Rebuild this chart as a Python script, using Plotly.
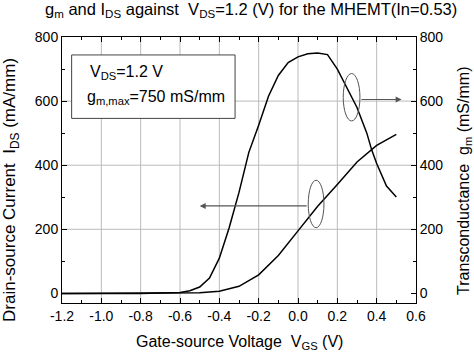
import plotly.graph_objects as go

# Data
vgs_gm = [-1.2, -0.8, -0.6, -0.55, -0.5, -0.45, -0.4, -0.35, -0.3, -0.25, -0.2, -0.15, -0.1, -0.05,
          0.0, 0.05, 0.1, 0.15, 0.2, 0.25, 0.3, 0.35, 0.375, 0.4, 0.45, 0.5]
gm = [0, 0, 3, 8, 20, 48, 110, 205, 315, 440, 525, 615, 680, 720,
      738, 748, 750, 745, 700, 640, 580, 500, 447, 405, 335, 301]

vgs_ids = [-1.2, -0.6, -0.5, -0.4, -0.3, -0.2, -0.1, 0.0, 0.1, 0.2, 0.3, 0.4, 0.5]
ids = [0, 0, 2, 7, 22, 58, 118, 195, 272, 340, 410, 462, 496]

x_ticks = [-1.2, -1.0, -0.8, -0.6, -0.4, -0.2, 0.0, 0.2, 0.4, 0.6]
x_tick_labels = ["-1.2", "-1.0", "-0.8", "-0.6", "-0.4", "-0.2", "0.0", "0.2", "0.4", "0.6"]
y_ticks = [0, 200, 400, 600, 800]

FONT = "Liberation Sans, Arial, sans-serif"
Y_MIN = -30

fig = go.Figure()

# Grid drawn as plain line traces built from the tick lists
for xv in x_ticks[1:-1]:
    fig.add_trace(go.Scatter(x=[xv, xv], y=[Y_MIN, y_ticks[-1]], mode="lines",
                             line=dict(color="#bbbbbb", width=1), hoverinfo="skip",
                             showlegend=False, xaxis="x", yaxis="y"))
for yv in y_ticks[1:-1]:
    fig.add_trace(go.Scatter(x=[x_ticks[0], x_ticks[-1]], y=[yv, yv], mode="lines",
                             line=dict(color="#bbbbbb", width=1), hoverinfo="skip",
                             showlegend=False, xaxis="x", yaxis="y"))

fig.add_trace(go.Scatter(x=vgs_ids, y=ids, mode="lines", line=dict(color="black", width=1.5),
                         showlegend=False, xaxis="x", yaxis="y"))
fig.add_trace(go.Scatter(x=vgs_gm, y=gm, mode="lines", line=dict(color="black", width=1.5),
                         showlegend=False, xaxis="x", yaxis="y2"))

fig.update_layout(
    width=474, height=355,
    margin=dict(l=62, r=58, t=37, b=52),
    paper_bgcolor="white", plot_bgcolor="rgba(0,0,0,0)",
    font=dict(family=FONT, size=14, color="black"),
    xaxis=dict(range=[-1.2, 0.6], tickmode="array", tickvals=x_ticks, ticktext=x_tick_labels,
               ticks="inside", ticklen=5, tickwidth=1, tickcolor="black", showline=True, linecolor="black",
               linewidth=1, mirror="ticks", zeroline=False, tickfont=dict(size=14), showgrid=False,
               minor=dict(ticks="inside", ticklen=3, dtick=0.1, tick0=-1.2, tickcolor="black", showgrid=False)),
    yaxis=dict(range=[Y_MIN, 800], tickmode="array", tickvals=y_ticks, ticks="inside", ticklen=5, tickwidth=1,
               tickcolor="black", showline=True, linecolor="black", linewidth=1, mirror=True,
               zeroline=False, tickfont=dict(size=14), showgrid=False,
               minor=dict(ticks="inside", ticklen=3, dtick=100, tickcolor="black", showgrid=False)),
    yaxis2=dict(range=[Y_MIN, 800], tickmode="array", tickvals=y_ticks, overlaying="y", side="right",
                ticks="inside", ticklen=5, tickwidth=1, tickcolor="black", showline=True, linecolor="black",
                showgrid=False, zeroline=False, tickfont=dict(size=14),
                minor=dict(ticks="inside", ticklen=3, dtick=100, tickcolor="black", showgrid=False)),
)

# Title and axis titles
fig.add_annotation(text="g<sub>m</sub> and I<sub>DS</sub> against  V<sub>DS</sub>=1.2 (V) for the MHEMT(In=0.53)",
                   xref="paper", yref="paper", x=0.534, y=1.0, yshift=27, xanchor="center", yanchor="middle",
                   showarrow=False, font=dict(size=16.5))
fig.add_annotation(text="Gate-source Voltage  V<sub>GS</sub> (V)", xref="paper", yref="paper",
                   x=0.5, y=0, yshift=-39, xanchor="center", yanchor="middle", showarrow=False,
                   font=dict(size=16))
fig.add_annotation(text="Drain-source Current  I<sub>DS</sub> (mA/mm)", xref="paper", yref="paper",
                   x=0, xshift=-51, y=0.425, textangle=-90, xanchor="center", yanchor="middle",
                   showarrow=False, font=dict(size=17))
fig.add_annotation(text="Transconductance  g<sub>m</sub> (mS/mm)", xref="paper", yref="paper",
                   x=1, xshift=49, y=0.459, textangle=-90, xanchor="center", yanchor="middle",
                   showarrow=False, font=dict(size=16))

# Info box
fig.add_shape(type="rect", x0=-1.151, x1=-0.32, y0=546, y1=744, xref="x", yref="y",
              line=dict(color="#444444", width=1), fillcolor="white", layer="above")
fig.add_annotation(text="V<sub>DS</sub>=1.2 V", x=-1.066, y=690, xref="x", yref="y",
                   xanchor="left", yanchor="middle", showarrow=False, font=dict(size=16))
fig.add_annotation(text="g<sub>m,max</sub>=750 mS/mm", x=-1.083, y=610, xref="x", yref="y",
                   xanchor="left", yanchor="middle", showarrow=False, font=dict(size=16))

# Ellipses
fig.add_shape(type="circle", x0=0.230, x1=0.315, y0=538, y1=686, xref="x", yref="y",
              line=dict(color="#555555", width=1))
fig.add_shape(type="circle", x0=0.052, x1=0.132, y0=205, y1=353, xref="x", yref="y",
              line=dict(color="#555555", width=1))

# Arrows
fig.add_annotation(x=0.527, y=605, ax=0.315, ay=605, xref="x", yref="y", axref="x", ayref="y",
                   showarrow=True, arrowhead=2, arrowsize=1, arrowwidth=1.2, arrowcolor="#555555", text="")
fig.add_annotation(x=-0.5, y=273, ax=0.052, ay=273, xref="x", yref="y", axref="x", ayref="y",
                   showarrow=True, arrowhead=2, arrowsize=1, arrowwidth=1.2, arrowcolor="#555555", text="")

fig.write_html("out.html", config={"displayModeBar": False},
               post_script="document.body.style.margin='0';document.body.style.padding='0';")
